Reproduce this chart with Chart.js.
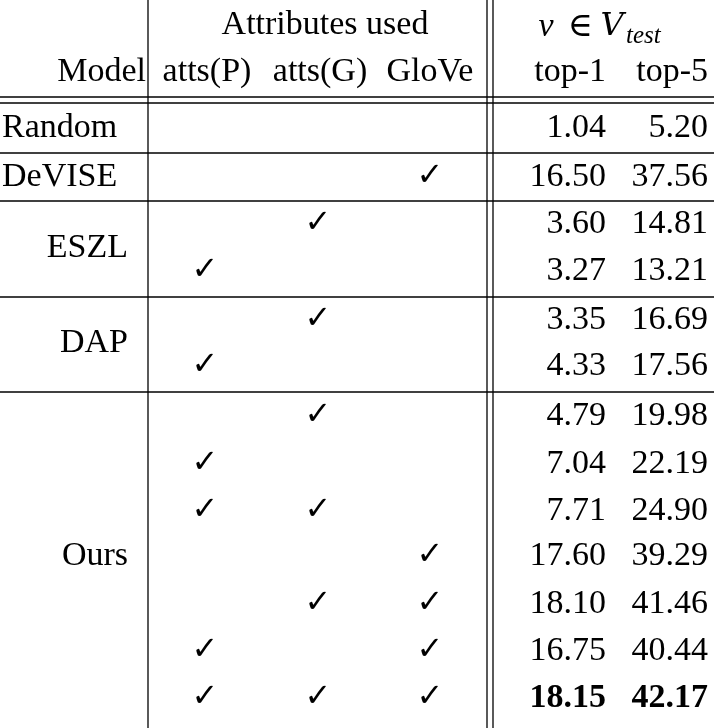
<!DOCTYPE html>
<html><head><meta charset="utf-8">
<script src="https://cdn.jsdelivr.net/npm/chart.js@4"></script>
<style>html,body{margin:0;padding:0;background:#fff}#wrap{width:714px;height:728px}</style>
</head><body><div id="wrap"><canvas id="c"></canvas></div>
<script>
// table content
const models=["Random","DeVISE","ESZL","","DAP","","","","","Ours","","",""];
const attsP=[0,0,0,1,0,1,0,1,1,0,0,1,1];
const attsG=[0,0,1,0,1,0,1,0,1,0,1,0,1];
const glove=[0,1,0,0,0,0,0,0,0,1,1,1,1];
const top1=["1.04","16.50","3.60","3.27","3.35","4.33","4.79","7.04","7.71","17.60","18.10","16.75","18.15"];
const top5=["5.20","37.56","14.81","13.21","16.69","17.56","19.98","22.19","24.90","39.29","41.46","40.44","42.17"];
const rowY=[128,177,224,271,320,366,416,464,511,556,604,651,698];
const groupLabelY=[128,177,248,248,343,343,556,556,556,556,556,556,556];
const hLines=[153,201,297,392];

const F="'Liberation Serif', 'DejaVu Serif', serif";
const FS="34px ";
const tablePlugin={id:"table",afterDraw(ch){
  const c=ch.ctx,x=ch.scales.x,y=ch.scales.y;
  const X=v=>x.getPixelForValue(v),Y=v=>y.getPixelForValue(v);
  c.save();c.fillStyle="#000";c.strokeStyle="#000";c.lineWidth=1.3;
  const line=(x1,y1,x2,y2)=>{c.beginPath();c.moveTo(X(x1),Y(y1));c.lineTo(X(x2),Y(y2));c.stroke();};
  line(148,0,148,728);line(487,0,487,728);line(493,0,493,728);
  line(0,97,714,97);line(0,103,714,103);
  hLines.forEach(h=>line(0,h,714,h));
  c.textBaseline="middle";
  const txt=(s,px,py,al,f)=>{c.font=f||(FS+F);c.textAlign=al;c.fillText(s,X(px),Y(py));};
  txt("Attributes used",325,25,"center");
  txt("Model",146,72,"right");
  txt("atts(P)",207,72,"center");txt("atts(G)",320,72,"center");txt("GloVe",430,72,"center");
  txt("top-1",606,72,"right");txt("top-5",708,72,"right");
  // v ∈ V_test
  txt("v",546,27,"center","italic 34px "+F);
  txt("∈",580,27,"center");
  txt("V",612,27,"center","italic 32px 'DejaVu Serif', serif");
  txt("test",626,36,"left","italic 25px "+F);
  const drawn={};
  models.forEach((m,i)=>{
    if(m&&!drawn[m]){drawn[m]=1;
      if(m==="Random"||m==="DeVISE")txt(m,2,rowY[i],"left");else txt(m,128,groupLabelY[i],"right");}
    const ck="32px 'DejaVu Sans', sans-serif";
    if(attsP[i])txt("✓",205,rowY[i],"center",ck);
    if(attsG[i])txt("✓",318,rowY[i],"center",ck);
    if(glove[i])txt("✓",430,rowY[i],"center",ck);
    const b=i===models.length-1?"bold "+FS+F:null;
    txt(top1[i],606,rowY[i],"right",b);txt(top5[i],708,rowY[i],"right",b);
  });
  c.restore();
}};
new Chart(document.getElementById("c"),{type:"scatter",data:{datasets:[{data:[]}]},
  options:{responsive:true,maintainAspectRatio:false,animation:false,layout:{padding:0},
    plugins:{legend:{display:false},tooltip:{enabled:false}},
    scales:{x:{type:"linear",min:0,max:714,display:false},y:{type:"linear",min:0,max:728,reverse:true,display:false}}},
  plugins:[tablePlugin]});
</script></body></html>
